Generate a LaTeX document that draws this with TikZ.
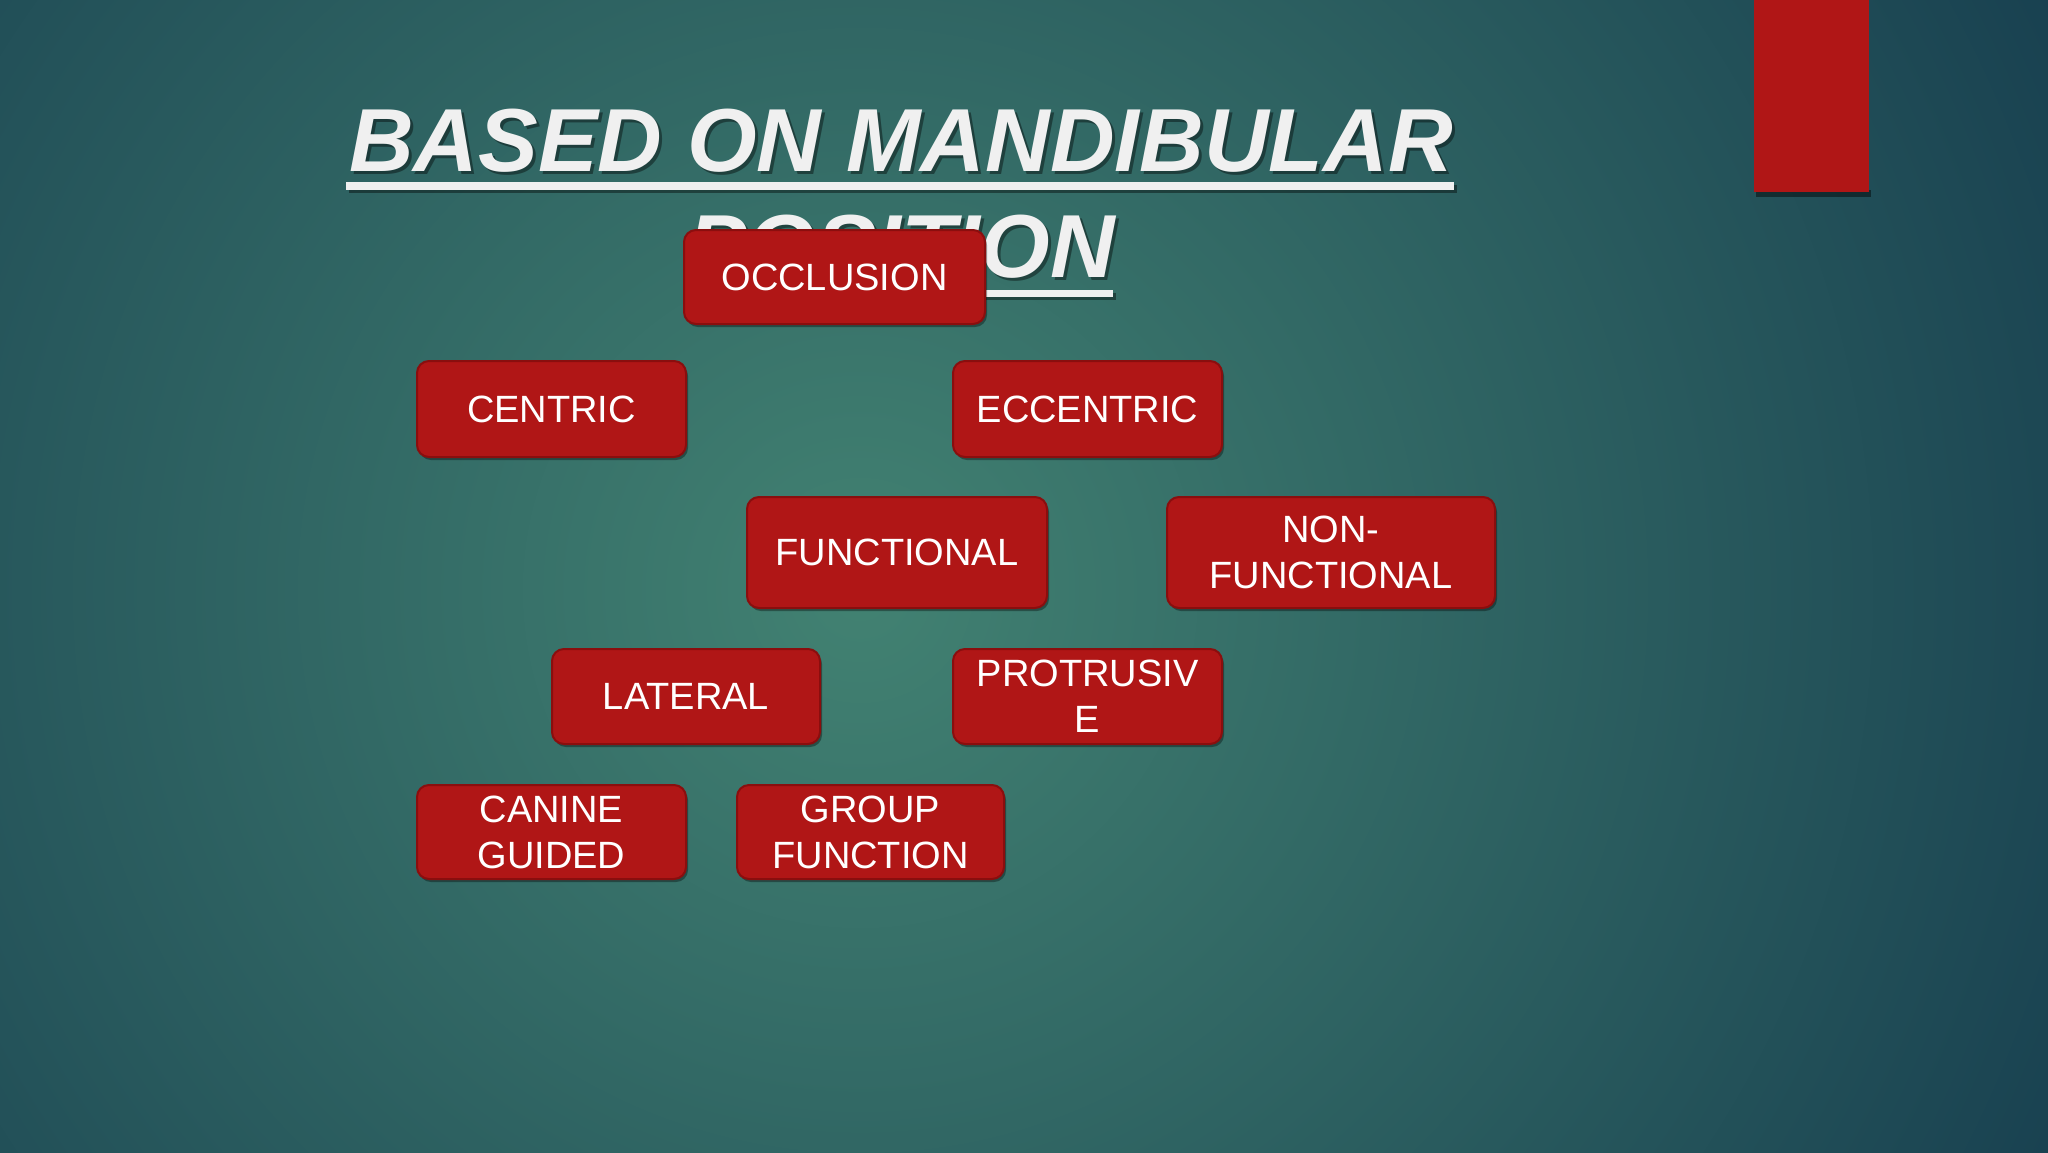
\documentclass[tikz,border=0pt]{standalone}
\usepackage{fontspec}
\setmainfont{Liberation Sans}
\usetikzlibrary{shadows}
\definecolor{bgedge}{RGB}{24,64,80}
\definecolor{bgmid}{RGB}{66,130,114}
\definecolor{boxred}{RGB}{176,22,22}
\definecolor{boxedge}{RGB}{138,14,14}
\definecolor{titlewhite}{RGB}{240,240,240}
\tikzset{
  box/.style={draw=boxedge, line width=2pt, fill=boxred, rounded corners=12pt,
    text=white, align=center, inner sep=0pt,
    font=\fontsize{38}{46}\selectfont,
    drop shadow={shadow xshift=2pt, shadow yshift=-3pt, opacity=0.35, fill=black}},
  titletext/.style={text=titlewhite, inner sep=0pt, anchor=base,
    font=\fontsize{89.5}{106}\selectfont\bfseries\itshape},
  titleshadow/.style={text=black, text opacity=0.4, inner sep=0pt, anchor=base,
    font=\fontsize{89.5}{106}\selectfont\bfseries\itshape},
}
\begin{document}
\begin{tikzpicture}[x=1pt,y=-1pt]
\useasboundingbox (0,0) rectangle (2048,1152);
\fill[bgedge] (0,0) rectangle (2048,1152);
\begin{scope}
\clip (0,0) rectangle (2048,1152);
\shade[inner color=bgmid, outer color=bgedge] (860,590) circle (1350);
\end{scope}
% red bar
\fill[black, opacity=0.45] (1756,190) rectangle (1871,197);
\fill[boxred] (1754,0) rectangle (1869,192);
% title
\node[titleshadow] (t1s) at (904,174) {BASED ON MANDIBULAR};
\node[titleshadow] (t2s) at (904,280) {POSITION};
\fill[black, opacity=0.4] (349,185) rectangle (1457,193);
\fill[black, opacity=0.4] (692,293) rectangle (1116,300);
\node[titletext] (t1) at (901,171) {BASED ON MANDIBULAR};
\node[titletext] (t2) at (901,277) {POSITION};
\fill[titlewhite] (346,182) rectangle (1454,190);
\fill[titlewhite] (689,290) rectangle (1113,297);
% boxes
\node[box, minimum width=301pt, minimum height=94pt] (occ) at (834.5,277) {OCCLUSION};
\node[box, minimum width=269pt, minimum height=96pt] (cen) at (551.5,409) {CENTRIC};
\node[box, minimum width=269pt, minimum height=96pt] (ecc) at (1087.5,409) {ECCENTRIC};
\node[box, minimum width=300pt, minimum height=111pt] (fun) at (897,552.5) {FUNCTIONAL};
\node[box, minimum width=328pt, minimum height=111pt] (nonf) at (1331,552.5) {NON-\\FUNCTIONAL};
\node[box, minimum width=268pt, minimum height=95pt] (lat) at (686,696.5) {LATERAL};
\node[box, minimum width=269pt, minimum height=95pt] (pro) at (1087.5,696.5) {PROTRUSIV\\E};
\node[box, minimum width=269pt, minimum height=94pt] (can) at (551.5,832) {CANINE\\GUIDED};
\node[box, minimum width=267pt, minimum height=94pt] (grp) at (870.5,832) {GROUP\\FUNCTION};
\end{tikzpicture}
\end{document}
